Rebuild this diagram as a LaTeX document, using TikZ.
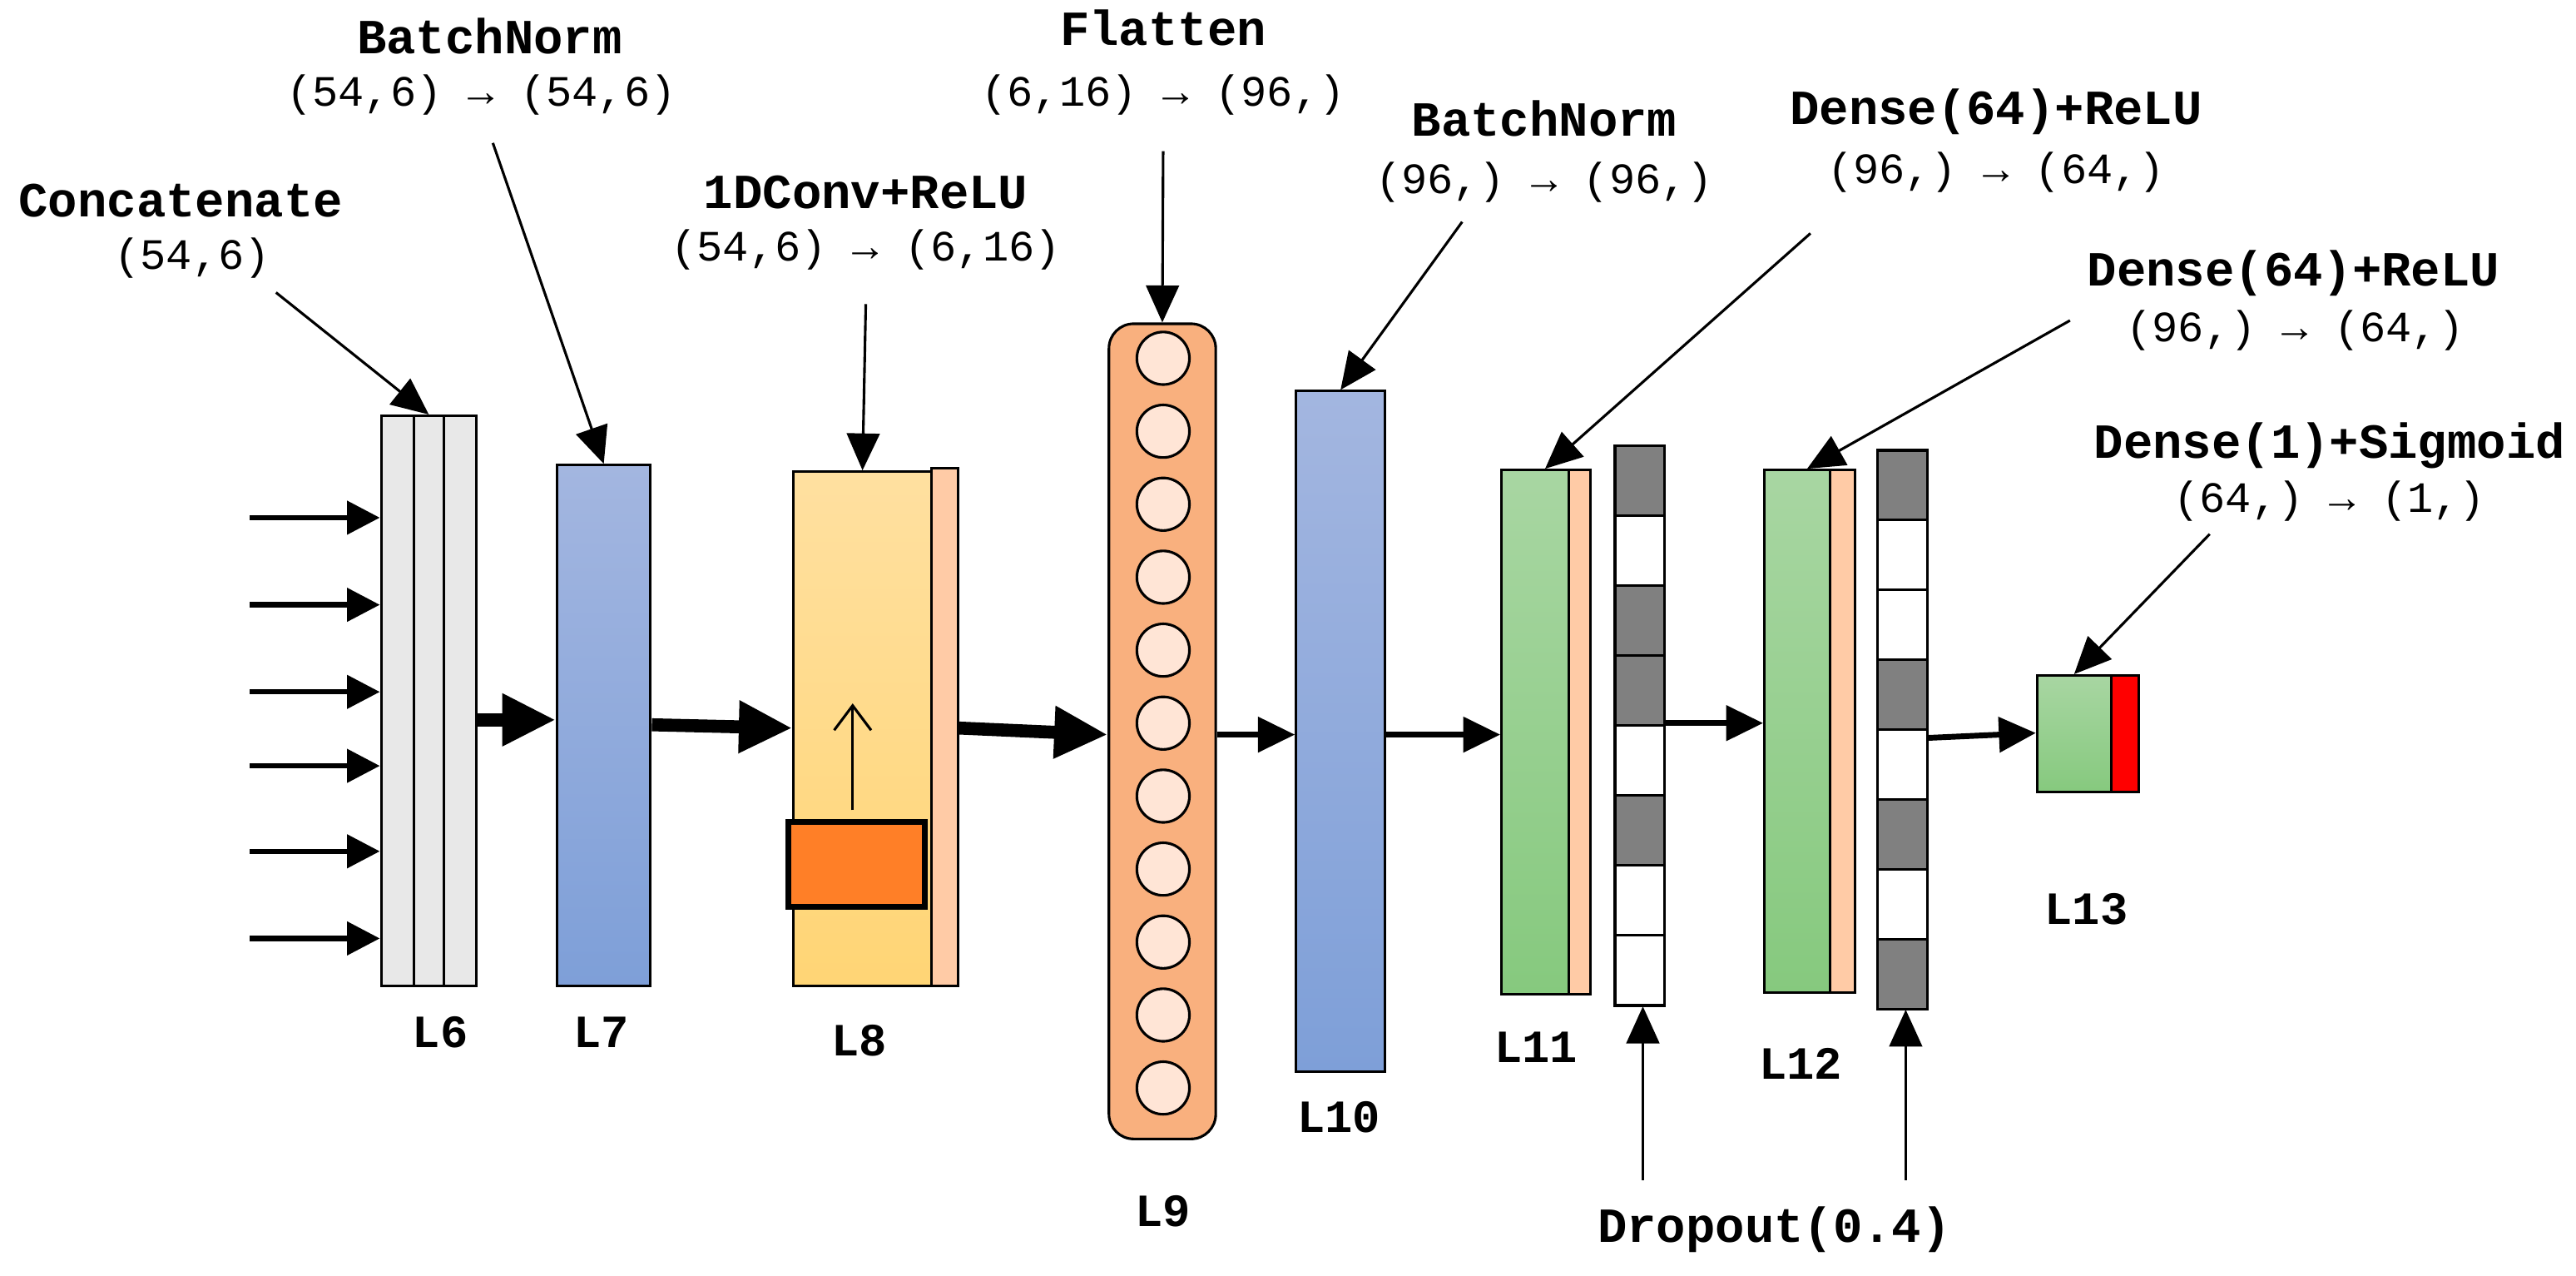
\documentclass[tikz,border=0pt]{standalone}
\usepackage{fontspec}
\setmainfont{Liberation Mono}
\usetikzlibrary{arrows.meta,fit,calc}
\definecolor{grayL}{HTML}{E8E8E8}
\definecolor{blueT}{HTML}{A3B6E0}
\definecolor{blueB}{HTML}{7E9FD8}
\definecolor{yelT}{HTML}{FFE0A0}
\definecolor{yelB}{HTML}{FFD575}
\definecolor{peach}{HTML}{FFCBA6}
\definecolor{orangeR}{HTML}{FF7F27}
\definecolor{flatO}{HTML}{F9B07E}
\definecolor{circ}{HTML}{FFE5D6}
\definecolor{grnT}{HTML}{A8D6A2}
\definecolor{grnB}{HTML}{86C97E}
\definecolor{dgray}{HTML}{808080}
\tikzset{
  title/.style={font=\fontsize{17}{19}\selectfont\bfseries, inner sep=0},
  shp/.style={font=\fontsize{15}{17}\selectfont, inner sep=0},
  lab/.style={font=\fontsize{16}{18}\selectfont\bfseries, inner sep=0},
  box/.style={draw=black, line width=0.9pt, inner sep=0},
  ann/.style={line width=0.9pt, -{Triangle[length=0.45cm,width=0.4cm]}},
  inarr/.style={line width=1.8pt, -{Triangle[length=0.4cm,width=0.4cm]}},
  bigarr/.style={line width=4.5pt, -{Triangle[length=0.65cm,width=0.6cm]}},
  midarr/.style={line width=2pt, -{Triangle[length=0.45cm,width=0.42cm]}},
}
\begin{document}
\begin{tikzpicture}[x=0.02cm,y=-0.02cm]
\useasboundingbox (0,0) rectangle (1568,776);
% texts
\node[title] (tConc) at (110,122) {Concatenate};
\node[shp] (sConc) at (117,157) {(54,6)};
\node[title] (tBN1) at (298,22) {BatchNorm};
\node[shp] (sBN1) at (293,58) {(54,6) → (54,6)};
\node[title] (tConv) at (527,117) {1DConv+ReLU};
\node[shp] (sConv) at (527,152) {(54,6) → (6,16)};
\node[title] (tFl) at (708,17) {Flatten};
\node[shp] (sFl) at (708,58) {(6,16) → (96,)};
\node[title] (tBN2) at (940,72) {BatchNorm};
\node[shp] (sBN2) at (940,111) {(96,) → (96,)};
\node[title] (tD1) at (1215,68) {Dense(64)+ReLU};
\node[shp] (sD1) at (1215,105) {(96,) → (64,)};
\node[title] (tD2) at (1396,166) {Dense(64)+ReLU};
\node[shp] (sD2) at (1397,201) {(96,) → (64,)};
\node[title] (tD3) at (1418,271) {Dense(1)+Sigmoid};
\node[shp] (sD3) at (1418,305) {(64,) → (1,)};
\node[title] (tDrop) at (1080,748) {Dropout(0.4)};
% L6
\node[box, fill=grayL, fit={(232,253)(290,600)}] (L6) {};
\draw[line width=0.9pt] (252,253) -- (252,600) (270,253) -- (270,600);
% L7
\node[box, top color=blueT, bottom color=blueB, fit={(339,283)(396,600)}] (L7) {};
% L8
\node[box, top color=yelT, bottom color=yelB, fit={(483,287)(567,600)}] (L8) {};
\node[box, fill=peach, fit={(567,285)(583,600)}] (L8s) {};
\node[draw=black, line width=2pt, fill=orangeR, inner sep=0, fit={(480,500)(563,552)}] (L8k) {};
\coordinate (L8a) at (519,493);
\coordinate (L8b) at (519,428);
\draw[line width=0.9pt, -{Straight Barb[length=0.3cm,width=0.45cm]}] (L8a) -- (L8b);
% L9
\node[box, fill=flatO, rounded corners=0.3cm, fit={(675,197)(740,693)}] (L9) {};
\foreach \i in {0,...,10}{
  \node[draw=black, line width=0.9pt, fill=circ, circle, minimum size=0.64cm, inner sep=0] (c\i) at (708,{218+\i*44.4}) {};
}
% L10
\node[box, top color=blueT, bottom color=blueB, fit={(789,238)(843,652)}] (L10) {};
% L11
\node[box, top color=grnT, bottom color=grnB, fit={(914,286)(955,605)}] (L11) {};
\node[box, fill=peach, fit={(955,286)(968,605)}] (L11s) {};
% Dropout 1
\foreach \c [count=\k from 0] in {dgray,white,dgray,dgray,white,dgray,white,white}{
  \draw[line width=0.9pt, fill=\c] (983,{271+\k*42.6}) rectangle (1013,{271+(\k+1)*42.6});
}
\node[inner sep=0, fit={(983,271)(1013,612)}] (D1) {};
% L12
\node[box, top color=grnT, bottom color=grnB, fit={(1074,286)(1114,604)}] (L12) {};
\node[box, fill=peach, fit={(1114,286)(1129,604)}] (L12s) {};
% Dropout 2
\foreach \c [count=\k from 0] in {dgray,white,white,dgray,white,dgray,white,dgray}{
  \draw[line width=0.9pt, fill=\c] (1143,{274+\k*42.5}) rectangle (1173,{274+(\k+1)*42.5});
}
\node[inner sep=0, fit={(1143,274)(1173,614)}] (D2) {};
% L13
\node[box, top color=grnT, bottom color=grnB, fit={(1240,411)(1285,482)}] (L13) {};
\node[box, fill=red, fit={(1285,411)(1302,482)}] (L13s) {};
% layer labels
\node[lab] (l6) at (268,628) {L6};
\node[lab] (l7) at (366,628) {L7};
\node[lab] (l8) at (523,633) {L8};
\node[lab] (l9) at (708,737) {L9};
\node[lab] (l10) at (815,680) {L10};
\node[lab] (l11) at (935,637) {L11};
\node[lab] (l12) at (1096,647) {L12};
\node[lab] (l13) at (1270,553) {L13};
% input arrows
\foreach \y [count=\k] in {315,368,421,466,518,571}{
  \coordinate (in\k) at (152,\y);
  \draw[inarr] (in\k) -- (L6.west |- 0,\y);
}
% main flow
\draw[bigarr] (L6.east |- 0,438) -- (L7.west |- 0,438);
\draw[bigarr] (L7.east |- 0,441) -- (L8.west |- 0,443);
\draw[bigarr] (L8s.east |- 0,443) -- (L9.west |- 0,447);
\draw[midarr] (L9.east |- 0,447) -- (L10.west |- 0,447);
\draw[midarr] (L10.east |- 0,447) -- (L11.west |- 0,447);
\draw[midarr] (D1.east |- 0,440) -- (L12.west |- 0,440);
\draw[midarr] (D2.east |- 0,449) -- (L13.west |- 0,446);
% annotation arrows
\coordinate (aConc) at (168,178);
\coordinate (aBN1) at (300,87);
\coordinate (aConv) at (527,185);
\coordinate (aFl) at (708,92);
\coordinate (aBN2) at (890,135);
\coordinate (aD1) at (1102,142);
\coordinate (aD2) at (1260,195);
\coordinate (aD3) at (1345,325);
\coordinate (aDr1) at (1000,718);
\coordinate (aDr2) at (1160,718);
\draw[ann] (aConc) -- (L6.north);
\draw[ann] (aBN1) -- (L7.north);
\draw[ann] (aConv) -- (L8.north);
\draw[ann] (aFl) -- (L9.north);
\draw[ann] (aBN2) -- (L10.north);
\draw[ann] (aD1) -- ($(L11.north)+(6,0)$);
\draw[ann] (aD2) -- ($(L12.north)+(6,0)$);
\draw[ann] (aD3) -- (L13.north);
\draw[ann] (aDr1) -- (aDr1 |- D1.south);
\draw[ann] (aDr2) -- (aDr2 |- D2.south);
\end{tikzpicture}
\end{document}
